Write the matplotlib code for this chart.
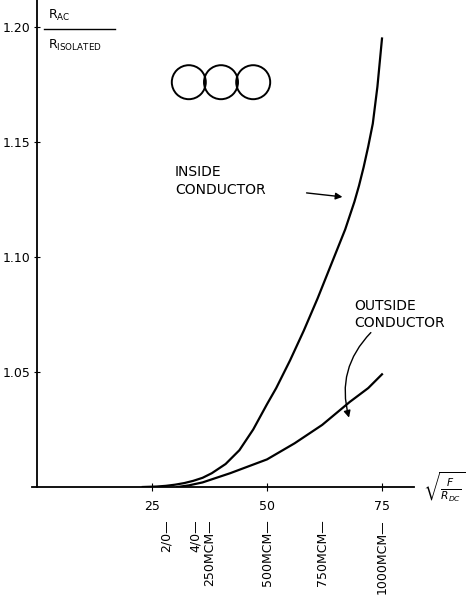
import matplotlib.pyplot as plt
from matplotlib.patches import Ellipse

# curves (x = sqrt(F/Rdc), y = Rac/Risolated)
inside_x = [23, 26, 28, 30, 32, 34, 36, 38, 41, 44, 47, 50, 52, 55, 58, 61, 63, 65, 67, 69, 70, 71, 72, 73, 74, 75]
inside_y = [1.000, 1.0002, 1.0005, 1.001, 1.0017, 1.0027, 1.004, 1.006, 1.010, 1.016, 1.025, 1.036, 1.043, 1.055, 1.068, 1.082, 1.092, 1.102, 1.112, 1.124, 1.131, 1.139, 1.148, 1.158, 1.174, 1.195]
outside_x = [30.5, 33, 36, 39, 42, 46, 50, 53, 56, 59, 62, 65, 68, 70, 72, 74, 75]
outside_y = [1.000, 1.0007, 1.002, 1.004, 1.006, 1.009, 1.012, 1.0155, 1.019, 1.023, 1.027, 1.032, 1.037, 1.040, 1.043, 1.047, 1.049]

x_ticks = [25, 50, 75]
y_ticks = [1.05, 1.10, 1.15, 1.20]
y_labels = ['1.05', '1.10', '1.15', '1.20']
wire_pos = [28, 34.5, 37.5, 50, 62, 75]
wire_names = ['2/0—', '4/0—', '250MCM—', '500MCM—', '750MCM—', '1000MCM—']

fig = plt.figure(figsize=(4.74, 5.97), dpi=100)
ax = fig.add_axes([37/474, 110/597, 1 - 37/474, 487/597])
ax.set_xlim(0, 95)
ax.set_ylim(1.0, 1.0 + 487/115*0.05)

ax.plot(inside_x, inside_y, color='black', lw=1.6)
ax.plot(outside_x, outside_y, color='black', lw=1.6)

for s in ['top', 'right']:
    ax.spines[s].set_visible(False)
ax.spines['bottom'].set_bounds(-1, 82)
ax.spines['left'].set_linewidth(1.3)
ax.spines['bottom'].set_linewidth(1.3)
ax.set_xticks(x_ticks)
ax.set_xticklabels([str(v) for v in x_ticks], fontsize=9)
ax.set_yticks(y_ticks)
ax.set_yticklabels(y_labels, fontsize=9)
ax.tick_params(axis='y', direction='inout', length=5, pad=2)
ax.tick_params(axis='x', direction='inout', length=6, pad=6)

# y label as fraction
ax.text(2.5, 1.205, r'R$_{\rm AC}$', fontsize=9, va='center')
ax.plot([1.5, 17], [1.199, 1.199], color='black', lw=1, clip_on=False)
ax.text(2.5, 1.192, r'R$_{\rm ISOLATED}$', fontsize=9, va='center')

# x label
ax.text(84, 1.000, r'$\sqrt{\frac{F}{R_{DC}}}$', fontsize=11, va='center')

# three circles (one x unit = 4.6 px, one y unit = 2300 px)
for cx in [33, 40, 47]:
    ax.add_patch(Ellipse((cx, 1.176), 34/4.6, 34/2300, fill=False, lw=1.4))

ax.text(30, 1.133, 'INSIDE\nCONDUCTOR', fontsize=10, va='center', linespacing=1.3)
ax.annotate('', xy=(67, 1.126), xytext=(58, 1.128),
            arrowprops=dict(arrowstyle='-|>', color='black', lw=1))
ax.text(69, 1.075, 'OUTSIDE\nCONDUCTOR', fontsize=10, va='center', linespacing=1.3)
ax.annotate('', xy=(68, 1.029), xytext=(73, 1.068),
            arrowprops=dict(arrowstyle='-|>', color='black', lw=1,
                            connectionstyle='arc3,rad=0.3'))

for p, n in zip(wire_pos, wire_names):
    ax.text(p, 0.986, n, rotation=90, fontsize=9, ha='center', va='top')

fig.savefig('out.png', dpi=100)
